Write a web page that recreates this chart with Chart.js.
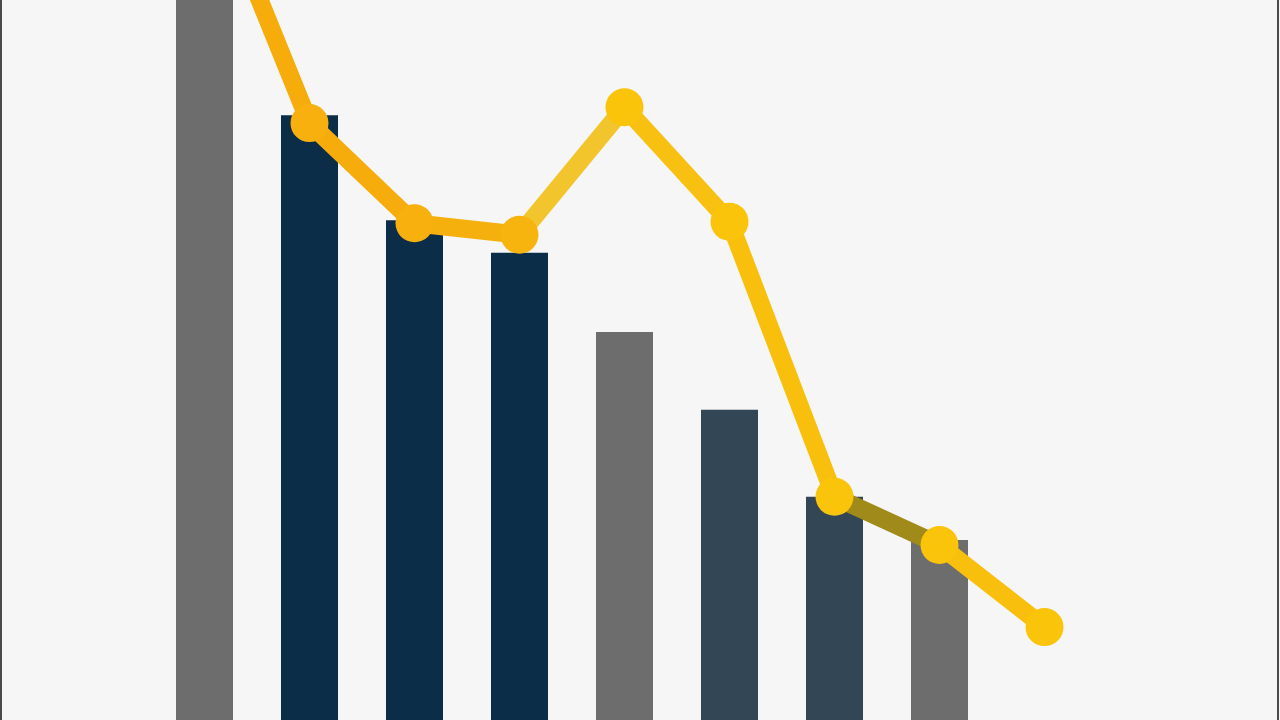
<!DOCTYPE html>
<html>
<head>
<meta charset="utf-8">
<style>
  html, body { margin: 0; padding: 0; background: #f6f6f6; }
  #wrap { position: relative; width: 1280px; height: 720px; overflow: hidden; }
  canvas { display: block; }
  .edge { position: absolute; top: 0; width: 2px; height: 720px; background: #4a4a4a; }
</style>
<script src="https://cdn.jsdelivr.net/npm/chart.js@4.4.1/dist/chart.umd.min.js"></script>
</head>
<body>
<div id="wrap">
  <canvas id="grafico" width="1280" height="720"></canvas>
  <div class="edge" style="left:0"></div>
  <div class="edge" style="left:1277px"></div>
</div>
<script>
// categorias e valores (escala 0-100, topo = 100)
const categorias = ['1', '2', '3', '4', '5', '6', '7', '8', '9'];
const barras = [106, 84.0, 69.4, 64.9, 53.9, 43.1, 31.0, 25.0, null];
const linha = [118.9, 82.9, 69.0, 67.4, 85.1, 69.2, 31.0, 24.3, 12.9];

const corBarras = ['#6d6d6d', '#0c2d48', '#0c2d48', '#0c2d48', '#6d6d6d', '#334656', '#334656', '#6d6d6d', '#6d6d6d'];
const corSegmentos = ['#f6ad0b', '#f6ad0b', '#f6b00e', '#f3c52c', '#f8c010', '#f8c00c', '#a08a1a', '#f8c00c'];
const corPontos = ['#f7b00e', '#f7b00e', '#f7b00e', '#f8b40e', '#fac40a', '#fac40a', '#fac40a', '#fac40a', '#fac40a'];

const ctx = document.getElementById('grafico');

let chart = new Chart(ctx, {
    data: {
        labels: categorias,
        datasets: [
            {
                type: 'line',
                data: linha,
                order: 0,
                borderWidth: 18,
                borderColor: '#f8c00c',
                segment: {
                    borderColor: c => corSegmentos[c.p0DataIndex]
                },
                pointRadius: 19,
                pointHoverRadius: 19,
                pointBorderWidth: 0,
                pointBackgroundColor: corPontos,
                borderJoinStyle: 'round',
                tension: 0
            },
            {
                type: 'bar',
                data: barras,
                order: 1,
                backgroundColor: corBarras,
                borderWidth: 0,
                categoryPercentage: 1,
                barPercentage: 0.543
            }
        ]
    },
    options: {
        responsive: false,
        animation: false,
        devicePixelRatio: 1,
        layout: { autoPadding: false, padding: { left: 152, right: 183, top: 0, bottom: 0 } },
        plugins: { legend: { display: false }, tooltip: { enabled: false } },
        scales: {
            x: { display: false, offset: true },
            y: { display: false, min: 0, max: 100 }
        }
    }
});
</script>
</body>
</html>
